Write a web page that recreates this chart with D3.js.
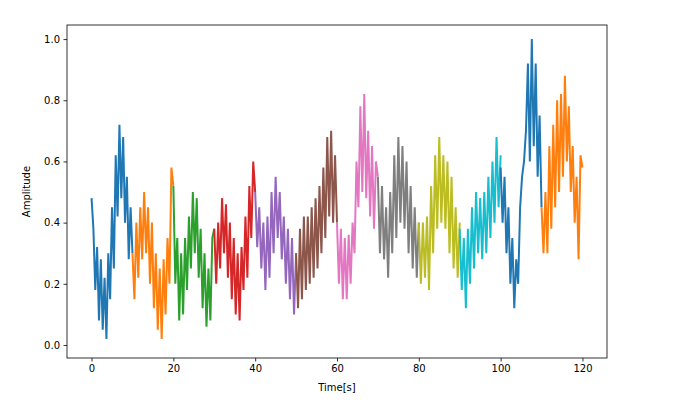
<!DOCTYPE html><html><head><script src="https://cdn.jsdelivr.net/npm/d3@7"></script>
<style>body{margin:0;background:#fff}text{font-family:"DejaVu Sans",sans-serif}</style></head><body><svg id="c" width="680" height="407"></svg><script>
const segments=[
[0.48,0.38,0.18,0.32,0.08,0.28,0.05,0.22,0.02,0.3,0.15,0.45,0.25,0.62,0.42,0.72,0.48,0.68,0.40,0.55,0.28,0.45,0.3],
[0.3,0.15,0.4,0.22,0.45,0.28,0.5,0.3,0.45,0.2,0.4,0.12,0.3,0.05,0.25,0.02,0.28,0.1,0.35,0.2,0.58,0.52],
[0.52,0.2,0.35,0.08,0.3,0.1,0.35,0.18,0.42,0.25,0.5,0.3,0.48,0.22,0.38,0.12,0.3,0.06,0.25,0.08,0.35,0.38],
[0.38,0.2,0.4,0.25,0.48,0.3,0.46,0.22,0.4,0.15,0.35,0.1,0.3,0.08,0.32,0.18,0.42,0.22,0.52,0.35,0.6,0.5],
[0.5,0.32,0.45,0.25,0.4,0.18,0.42,0.22,0.5,0.3,0.55,0.35,0.5,0.28,0.42,0.2,0.38,0.15,0.35,0.1,0.3],
[0.3,0.12,0.38,0.15,0.42,0.18,0.42,0.2,0.45,0.22,0.48,0.25,0.52,0.3,0.58,0.35,0.68,0.42,0.7,0.4,0.62,0.4],
[0.4,0.2,0.38,0.15,0.35,0.15,0.36,0.2,0.4,0.3,0.6,0.45,0.78,0.5,0.82,0.48,0.7,0.42,0.65,0.38,0.6,0.55],
[0.55,0.3,0.52,0.28,0.45,0.22,0.5,0.3,0.62,0.35,0.68,0.4,0.65,0.38,0.6,0.3,0.52,0.25,0.45,0.22,0.4],
[0.4,0.2,0.4,0.22,0.42,0.18,0.52,0.3,0.62,0.38,0.68,0.4,0.62,0.38,0.6,0.3,0.55,0.25,0.45,0.22,0.4],
[0.38,0.18,0.35,0.12,0.38,0.2,0.45,0.25,0.5,0.3,0.48,0.28,0.5,0.3,0.55,0.35,0.6,0.4,0.68,0.45,0.62],
[0.58,0.4,0.55,0.3,0.45,0.2,0.35,0.12,0.28,0.2,0.45,0.55,0.6,0.7,0.92,0.6,1.0,0.65,0.92,0.55,0.75,0.45],
[0.45,0.3,0.5,0.3,0.65,0.38,0.72,0.45,0.8,0.5,0.82,0.55,0.88,0.6,0.78,0.5,0.65,0.4,0.55,0.28,0.62,0.58]];
const segStarts=[0,10,20,30,40,50,60,70,80,90,100,110];
const xTicks=[0,20,40,60,80,100,120];
const yTicks=[0,0.2,0.4,0.6,0.8,1.0];
const colors=["#1f77b4","#ff7f0e","#2ca02c","#d62728","#9467bd","#8c564b","#e377c2","#7f7f7f","#bcbd22","#17becf","#1f77b4","#ff7f0e"];
const L=67,R=607,T=25,B=358;
const svg=d3.select("#c");
const x=d3.scaleLinear().domain([-6,126]).range([L,R]);
const y=d3.scaleLinear().domain([-0.0425,1.046]).range([B,T]);
const line=d3.line().x(d=>x(d[0])).y(d=>y(d[1]));
segments.forEach((s,i)=>{
  const pts=s.map((v,j)=>[segStarts[i]+10*j/(s.length-1),v]);
  svg.append("path").attr("d",line(pts)).attr("fill","none").attr("stroke",colors[i]).attr("stroke-width",2);
});
svg.append("g").attr("transform",`translate(0,${B})`).call(d3.axisBottom(x).tickValues(xTicks).tickFormat(d3.format("d")).tickSize(3.5).tickPadding(3.5));
svg.append("g").attr("transform",`translate(${L},0)`).call(d3.axisLeft(y).tickValues(yTicks).tickFormat(d3.format(".1f")).tickSize(3.5).tickPadding(3.5));
svg.selectAll(".domain").remove();
svg.selectAll(".tick text").attr("font-size",10).attr("fill","#000").attr("font-family","DejaVu Sans");
svg.selectAll(".tick line").attr("stroke","#000").attr("stroke-width",0.8);
svg.append("rect").attr("x",L).attr("y",T).attr("width",R-L).attr("height",B-T).attr("fill","none").attr("stroke","#000").attr("stroke-width",0.8);
svg.append("text").attr("x",(L+R)/2).attr("y",391).attr("text-anchor","middle").attr("font-size",10).text("Time[s]");
svg.append("text").attr("transform",`translate(30,${(T+B)/2}) rotate(-90)`).attr("text-anchor","middle").attr("font-size",10).text("Amplitude");
</script></body></html>
